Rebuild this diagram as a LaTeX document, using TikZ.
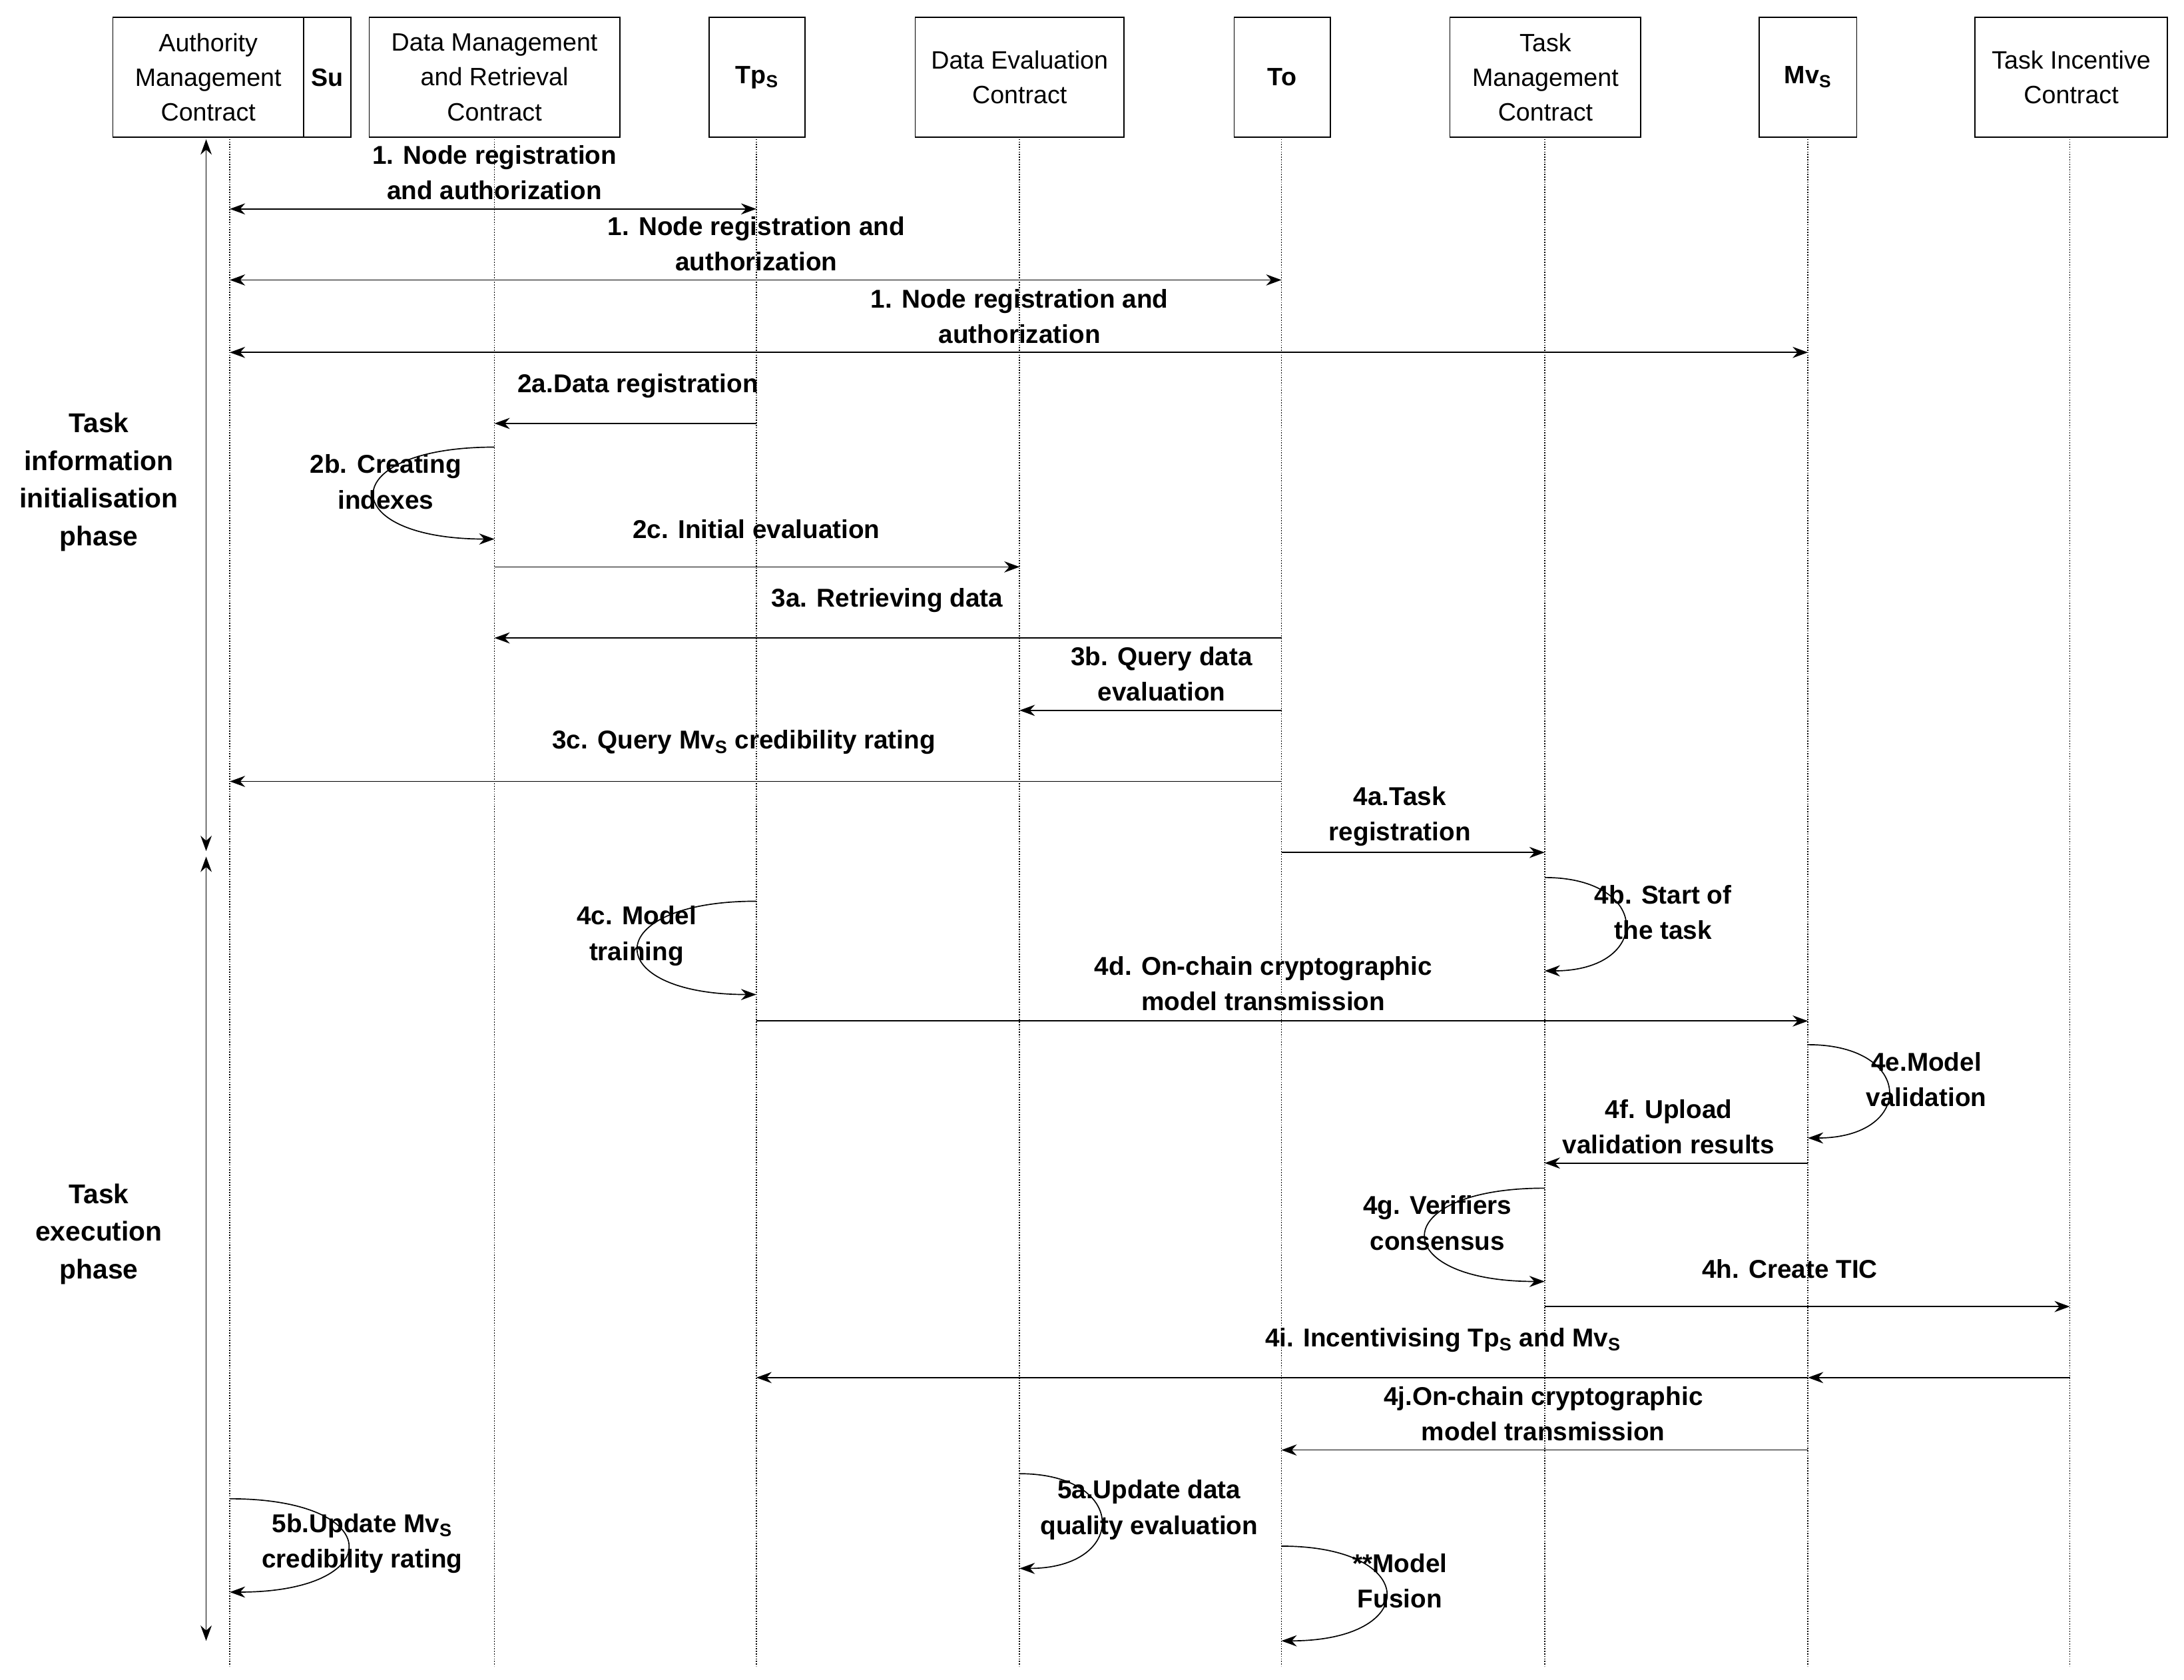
\documentclass[tikz,border=0pt]{standalone}
\usepackage{fontspec}
\setmainfont{Liberation Sans}
\usetikzlibrary{arrows.meta}
\begin{document}
\begin{tikzpicture}[x=1pt,y=-1pt,
  hdr/.style={draw,thick,minimum height=86pt,align=center,inner sep=1pt,font=\fontsize{18}{25}\selectfont},
  life/.style={densely dotted,thick},
  msg/.style={thick,-{Stealth[length=11pt,width=8pt]}},
  dmsg/.style={thick,{Stealth[length=11pt,width=8pt]}-{Stealth[length=11pt,width=8pt]}},
  lbl/.style={align=center,font=\bfseries\fontsize{18.5}{25.5}\selectfont,inner sep=0pt},
  ph/.style={align=center,font=\bfseries\fontsize{19.5}{27}\selectfont,inner sep=0pt}]
\useasboundingbox (0,0) rectangle (1568,1206);
\fill[white] (0,0) rectangle (1568,1206);
% headers
\node[hdr,minimum width=137pt] (am) at (149.5,55.5) {Authority\\Management\\Contract};
\node[hdr,minimum width=34pt] (su) at (235,55.5) {\bfseries Su};
\node[hdr,minimum width=180pt] (dm) at (355,55.5) {Data Management\\and Retrieval\\Contract};
\node[hdr,minimum width=69pt] (tp) at (543.5,55.5) {\bfseries Tp\textsubscript{S}};
\node[hdr,minimum width=150pt] (de) at (732,55.5) {Data Evaluation\\Contract};
\node[hdr,minimum width=69pt] (to) at (920.5,55.5) {\bfseries To};
\node[hdr,minimum width=137pt] (tm) at (1109.5,55.5) {Task\\Management\\Contract};
\node[hdr,minimum width=70pt] (mv) at (1298,55.5) {\bfseries Mv\textsubscript{S}};
\node[hdr,minimum width=138pt] (ti) at (1487,55.5) {Task Incentive\\Contract};
% lifelines
\foreach \n/\x in {L1/165,L2/355,L3/543,L4/732,L5/920,L6/1109,L7/1298,L8/1486}{
  \coordinate (\n t) at (\x,98); \coordinate (\n b) at (\x,1196);
  \draw[life] (\n t) -- (\n b);}
% phases
\coordinate (p1a) at (148,100); \coordinate (p1b) at (148,611);
\coordinate (p2a) at (148,615); \coordinate (p2b) at (148,1178);
\draw[dmsg] (p1a) -- (p1b);
\draw[dmsg] (p2a) -- (p2b);
\node[ph] (ph1) at (71,346) {Task\\information\\initialisation\\phase};
\node[ph] (ph2) at (71,886) {Task\\execution\\phase};
% messages
\coordinate (a1) at (165,150); \coordinate (b1) at (543,150);
\draw[dmsg] (a1) -- (b1); \node[lbl] (t1) at (355,124) {1. Node registration\\and authorization};
\coordinate (a2) at (165,201); \coordinate (b2) at (920,201);
\draw[dmsg] (a2) -- (b2); \node[lbl] (t2) at (543,175) {1. Node registration and\\authorization};
\coordinate (a3) at (165,253); \coordinate (b3) at (1298,253);
\draw[dmsg] (a3) -- (b3); \node[lbl] (t3) at (732,227) {1. Node registration and\\authorization};
\coordinate (a4) at (543,304); \coordinate (b4) at (355,304);
\draw[msg] (a4) -- (b4); \node[lbl] (t4) at (458,277) {2a.Data registration};
\coordinate (a5) at (355,321); \coordinate (b5) at (355,387);
\draw[msg] (a5) .. controls (240,321) and (240,387) .. (b5); \node[lbl] (t5) at (277,346) {2b. Creating\\indexes};
\coordinate (a6) at (355,407); \coordinate (b6) at (732,407);
\draw[msg] (a6) -- (b6); \node[lbl] (t6) at (543,380) {2c. Initial evaluation};
\coordinate (a7) at (920,458); \coordinate (b7) at (355,458);
\draw[msg] (a7) -- (b7); \node[lbl] (t7) at (637,431) {3a. Retrieving data};
\coordinate (a8) at (920,510); \coordinate (b8) at (732,510);
\draw[msg] (a8) -- (b8); \node[lbl] (t8) at (834,484) {3b. Query data\\evaluation};
\coordinate (a9) at (920,561); \coordinate (b9) at (165,561);
\draw[msg] (a9) -- (b9); \node[lbl] (t9) at (534,533) {3c. Query Mv\textsubscript{S} credibility rating};
\coordinate (a10) at (920,612); \coordinate (b10) at (1109,612);
\draw[msg] (a10) -- (b10); \node[lbl] (t10) at (1005,586) {4a.Task\\registration};
\coordinate (a11) at (1109,630); \coordinate (b11) at (1109,697);
\draw[msg] (a11) .. controls (1186,630) and (1186,697) .. (b11); \node[lbl] (t11) at (1194,655) {4b. Start of\\the task};
\coordinate (a12) at (543,647); \coordinate (b12) at (543,714);
\draw[msg] (a12) .. controls (430,647) and (430,714) .. (b12); \node[lbl] (t12) at (457,672) {4c. Model\\training};
\coordinate (a13) at (543,733); \coordinate (b13) at (1298,733);
\draw[msg] (a13) -- (b13); \node[lbl] (t13) at (907,706) {4d. On-chain cryptographic\\model transmission};
\coordinate (a14) at (1298,750); \coordinate (b14) at (1298,817);
\draw[msg] (a14) .. controls (1375,750) and (1375,817) .. (b14); \node[lbl] (t14) at (1383,775) {4e.Model\\validation};
\coordinate (a15) at (1298,835); \coordinate (b15) at (1109,835);
\draw[msg] (a15) -- (b15); \node[lbl] (t15) at (1198,809) {4f. Upload\\validation results};
\coordinate (a16) at (1109,853); \coordinate (b16) at (1109,920);
\draw[msg] (a16) .. controls (995,853) and (995,920) .. (b16); \node[lbl] (t16) at (1032,878) {4g. Verifiers\\consensus};
\coordinate (a17) at (1109,938); \coordinate (b17) at (1486,938);
\draw[msg] (a17) -- (b17); \node[lbl] (t17) at (1285,911) {4h. Create TIC};
\coordinate (a18) at (1486,989); \coordinate (m18) at (1298,989); \coordinate (b18) at (543,989);
\draw[msg] (a18) -- (m18); \draw[msg] (m18) -- (b18); \node[lbl] (t18) at (1036,962) {4i. Incentivising Tp\textsubscript{S} and Mv\textsubscript{S}};
\coordinate (a19) at (1298,1041); \coordinate (b19) at (920,1041);
\draw[msg] (a19) -- (b19); \node[lbl] (t19) at (1108,1015) {4j.On-chain cryptographic\\model transmission};
\coordinate (a20) at (732,1058); \coordinate (b20) at (732,1126);
\draw[msg] (a20) .. controls (810,1058) and (810,1126) .. (b20); \node[lbl] (t20) at (825,1084) {5a.Update data\\quality evaluation};
\coordinate (a21) at (165,1076); \coordinate (b21) at (165,1143);
\draw[msg] (a21) .. controls (278,1076) and (278,1143) .. (b21); \node[lbl] (t21) at (260,1108) {5b.Update Mv\textsubscript{S}\\credibility rating};
\coordinate (a22) at (920,1110); \coordinate (b22) at (920,1178);
\draw[msg] (a22) .. controls (1020,1110) and (1020,1178) .. (b22); \node[lbl] (t22) at (1005,1135) {**Model\\Fusion};
\end{tikzpicture}
\end{document}
